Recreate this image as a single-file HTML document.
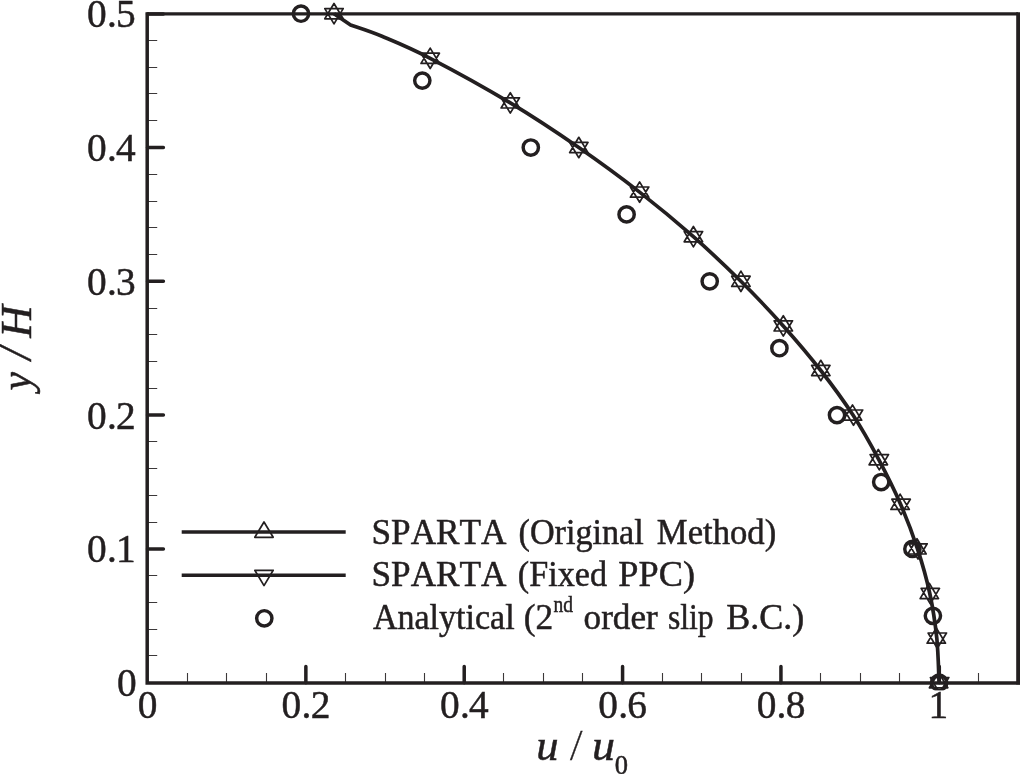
<!DOCTYPE html>
<html><head><meta charset="utf-8"><title>Velocity profile</title>
<style>html,body{margin:0;padding:0;background:#fff}svg{display:block}text{font-family:"Liberation Serif","DejaVu Serif",serif;fill:#231f20;stroke:#231f20;stroke-width:0.5;font-kerning:none}</style></head><body>
<svg width="1020" height="774" viewBox="0 0 1020 774">
<rect width="1020" height="774" fill="#fff" stroke="none"/>
<path d="M147.5 655.5H157.2M147.5 629.5H157.2M147.5 602.5H157.2M147.5 575.5H157.2M147.5 522.5H157.2M147.5 495.5H157.2M147.5 468.5H157.2M147.5 441.5H157.2M147.5 388.5H157.2M147.5 361.5H157.2M147.5 334.5H157.2M147.5 308.5H157.2M147.5 254.5H157.2M147.5 227.5H157.2M147.5 201.5H157.2M147.5 174.5H157.2M147.5 120.5H157.2M147.5 93.5H157.2M147.5 67.5H157.2M147.5 40.5H157.2M187.5 682.7V673M226.5 682.7V673M266.5 682.7V673M345.5 682.7V673M385.5 682.7V673M424.5 682.7V673M503.5 682.7V673M543.5 682.7V673M582.5 682.7V673M662.5 682.7V673M701.5 682.7V673M741.5 682.7V673M820.5 682.7V673M860.5 682.7V673M899.5 682.7V673M978.5 682.7V673" stroke="#3c3839" stroke-width="1.1" fill="none"/>
<path d="M147.5 548.90H163.4M147.5 415.10H163.4M147.5 281.30H163.4M147.5 147.50H163.4M305.86 682.7V666.6M464.22 682.7V666.6M622.58 682.7V666.6M780.94 682.7V666.6M939.30 682.7V666.6M147.5 13.9H163.4" stroke="#231f20" stroke-width="3.5" fill="none" stroke-linecap="round"/>
<path d="M147.2 12.3V682.9H1020" stroke="#231f20" stroke-width="3.5" fill="none" stroke-linejoin="miter"/>
<path d="M147.2 13.9H1018.1" stroke="#231f20" stroke-width="3.2" fill="none"/>
<path d="M1018.1 12.3V684.6" stroke="#231f20" stroke-width="3.8" fill="none"/>
<path d="M334.0 13.7L350.6 25.0C355.8 26.9 368.7 30.7 382.0 36.3C395.3 41.9 408.8 47.2 430.2 58.3C451.6 69.4 485.5 88.0 510.3 102.9C535.1 117.8 557.2 132.6 578.8 147.5C600.3 162.4 620.5 177.2 639.6 192.1C658.7 207.0 676.5 221.8 693.4 236.7C710.3 251.6 725.9 266.4 740.9 281.3C755.9 296.2 770.0 311.0 783.3 325.9C796.6 340.8 809.2 355.6 820.8 370.5C832.4 385.4 843.3 400.2 853.0 415.1C862.7 430.0 870.9 444.8 878.8 459.7C886.7 474.6 894.1 489.4 900.6 504.3C907.1 519.2 912.6 534.0 917.5 548.9C922.4 563.8 926.6 578.6 929.8 593.5C933.0 608.4 935.2 623.2 936.8 638.1C938.3 653.0 938.7 675.3 939.1 682.7" stroke="#231f20" stroke-width="3.7" fill="none" stroke-linejoin="round"/>
<path d="M334.0 3.5L343.2 18.8L324.8 18.8ZM334.0 23.9L343.2 8.6L324.8 8.6ZM430.2 48.1L439.4 63.4L421.0 63.4ZM430.2 68.5L439.4 53.2L421.0 53.2ZM510.3 92.7L519.5 108.0L501.1 108.0ZM510.3 113.1L519.5 97.8L501.1 97.8ZM578.8 137.3L588.0 152.6L569.6 152.6ZM578.8 157.7L588.0 142.4L569.6 142.4ZM639.6 181.9L648.8 197.2L630.4 197.2ZM639.6 202.3L648.8 187.0L630.4 187.0ZM693.4 226.5L702.6 241.8L684.2 241.8ZM693.4 246.9L702.6 231.6L684.2 231.6ZM740.9 271.1L750.1 286.4L731.7 286.4ZM740.9 291.5L750.1 276.2L731.7 276.2ZM783.3 315.7L792.5 331.0L774.1 331.0ZM783.3 336.1L792.5 320.8L774.1 320.8ZM820.8 360.3L830.0 375.6L811.6 375.6ZM820.8 380.7L830.0 365.4L811.6 365.4ZM852.5 404.9L861.7 420.2L843.3 420.2ZM853.5 425.3L862.7 410.0L844.3 410.0ZM878.3 449.5L887.5 464.8L869.1 464.8ZM879.3 469.9L888.5 454.6L870.1 454.6ZM900.1 494.1L909.3 509.4L890.9 509.4ZM901.1 514.5L910.3 499.2L891.9 499.2ZM917.0 538.7L926.2 554.0L907.8 554.0ZM918.0 559.1L927.2 543.8L908.8 543.8ZM929.3 583.3L938.5 598.6L920.1 598.6ZM930.3 603.7L939.5 588.4L921.1 588.4ZM936.3 627.9L945.5 643.2L927.1 643.2ZM937.3 648.3L946.5 633.0L928.1 633.0ZM938.6 672.5L947.8 687.8L929.4 687.8ZM939.6 692.9L948.8 677.6L930.4 677.6ZM264.0 522.0L273.2 537.3L254.8 537.3ZM264.0 585.6L273.2 570.3L254.8 570.3Z" stroke="#231f20" stroke-width="1.7" fill="none" stroke-linejoin="round"/>
<circle cx="301.0" cy="13.7" r="7.65" stroke="#231f20" stroke-width="3.45" fill="none"/>
<circle cx="422.3" cy="80.6" r="7.65" stroke="#231f20" stroke-width="3.45" fill="none"/>
<circle cx="530.8" cy="147.5" r="7.65" stroke="#231f20" stroke-width="3.45" fill="none"/>
<circle cx="626.6" cy="214.4" r="7.65" stroke="#231f20" stroke-width="3.45" fill="none"/>
<circle cx="709.7" cy="281.3" r="7.65" stroke="#231f20" stroke-width="3.45" fill="none"/>
<circle cx="779.4" cy="348.2" r="7.65" stroke="#231f20" stroke-width="3.45" fill="none"/>
<circle cx="837.0" cy="415.1" r="7.65" stroke="#231f20" stroke-width="3.45" fill="none"/>
<circle cx="881.2" cy="482.0" r="7.65" stroke="#231f20" stroke-width="3.45" fill="none"/>
<circle cx="912.4" cy="548.9" r="7.65" stroke="#231f20" stroke-width="3.45" fill="none"/>
<circle cx="932.9" cy="615.8" r="7.65" stroke="#231f20" stroke-width="3.45" fill="none"/>
<circle cx="939.1" cy="682.7" r="7.65" stroke="#231f20" stroke-width="3.45" fill="none"/>
<circle cx="264.3" cy="618.3" r="7.65" stroke="#231f20" stroke-width="3.45" fill="none"/>
<path d="M181.7 532H345.7M181.7 575.3H345.7" stroke="#231f20" stroke-width="3.6" fill="none"/>
<text transform="scale(0.96 1)" x="121.77" y="696.3" font-size="41.0">0</text>
<text transform="scale(0.96 1)" x="90.62 111.44 120.92" y="562.5" font-size="41.0">0.1</text>
<text transform="scale(0.96 1)" x="90.62 111.44 120.92" y="428.7" font-size="41.0">0.2</text>
<text transform="scale(0.96 1)" x="90.62 111.44 120.92" y="294.9" font-size="41.0">0.3</text>
<text transform="scale(0.96 1)" x="90.62 111.44 120.92" y="161.1" font-size="41.0">0.4</text>
<text transform="scale(0.96 1)" x="90.62 111.44 120.92" y="27.3" font-size="41.0">0.5</text>
<rect x="929" y="690.4" width="21" height="30" fill="#fff" stroke="none"/>
<text transform="scale(0.96 1)" x="143.40" y="718.2" font-size="41.0">0</text>
<text transform="scale(0.96 1)" x="293.29 314.10 323.58" y="718.2" font-size="41.0">0.2</text>
<text transform="scale(0.96 1)" x="458.25 479.06 488.54" y="718.2" font-size="41.0">0.4</text>
<text transform="scale(0.96 1)" x="623.21 644.02 653.50" y="718.2" font-size="41.0">0.6</text>
<text transform="scale(0.96 1)" x="788.17 808.98 818.46" y="718.2" font-size="41.0">0.8</text>
<text transform="scale(0.96 1)" x="967.25" y="718.2" font-size="41.0">1</text>
<text><tspan x="371.50" y="543.5" font-size="35.2" textLength="135.04" lengthAdjust="spacingAndGlyphs">SPARTA</tspan> <tspan x="518.53" y="543.5" font-size="35.2" textLength="125.16" lengthAdjust="spacingAndGlyphs">(Original</tspan> <tspan x="656.81" y="543.5" font-size="35.2" textLength="119.46" lengthAdjust="spacingAndGlyphs">Method)</tspan></text>
<text><tspan x="371.50" y="586.0" font-size="35.2" textLength="135.04" lengthAdjust="spacingAndGlyphs">SPARTA</tspan> <tspan x="517.83" y="586.0" font-size="35.2" textLength="89.15" lengthAdjust="spacingAndGlyphs">(Fixed</tspan> <tspan x="618.37" y="586.0" font-size="35.2" textLength="76.60" lengthAdjust="spacingAndGlyphs">PPC)</tspan></text>
<text><tspan x="372.90" y="629.0" font-size="35.2" textLength="141.74" lengthAdjust="spacingAndGlyphs">Analytical</tspan> <tspan x="523.70" y="629.0" font-size="35.2" textLength="29.42" lengthAdjust="spacingAndGlyphs">(2</tspan><tspan x="553.40" y="611.5" font-size="23" textLength="19.50" lengthAdjust="spacingAndGlyphs">nd</tspan> <tspan x="583.60" y="629.0" font-size="35.2" textLength="74.15" lengthAdjust="spacingAndGlyphs">order</tspan> <tspan x="667.90" y="629.0" font-size="35.2" textLength="45.66" lengthAdjust="spacingAndGlyphs">slip</tspan> <tspan x="726.18" y="629.0" font-size="35.2" textLength="78.02" lengthAdjust="spacingAndGlyphs">B.C.)</tspan></text>
<text transform="translate(30.7 400) rotate(-90)"><tspan x="9.60" y="0" font-size="44" font-style="italic" textLength="18.55" lengthAdjust="spacingAndGlyphs">y</tspan> <tspan x="40.32" y="0" font-size="46" font-style="italic" textLength="12.28" lengthAdjust="spacingAndGlyphs">/</tspan> <tspan x="62.22" y="0" font-size="44" font-style="italic" textLength="32.33" lengthAdjust="spacingAndGlyphs">H</tspan></text>
<text><tspan x="536.37" y="760.4" font-size="44" font-style="italic" textLength="22.35" lengthAdjust="spacingAndGlyphs">u</tspan> <tspan x="571.50" y="760.4" font-size="44" font-style="italic" textLength="8.56" lengthAdjust="spacingAndGlyphs">/</tspan> <tspan x="592.01" y="760.4" font-size="44" font-style="italic" textLength="23.04" lengthAdjust="spacingAndGlyphs">u</tspan><tspan x="614.80" y="773.5" font-size="26.5" textLength="13.25" lengthAdjust="spacingAndGlyphs">0</tspan></text>
</svg></body></html>
